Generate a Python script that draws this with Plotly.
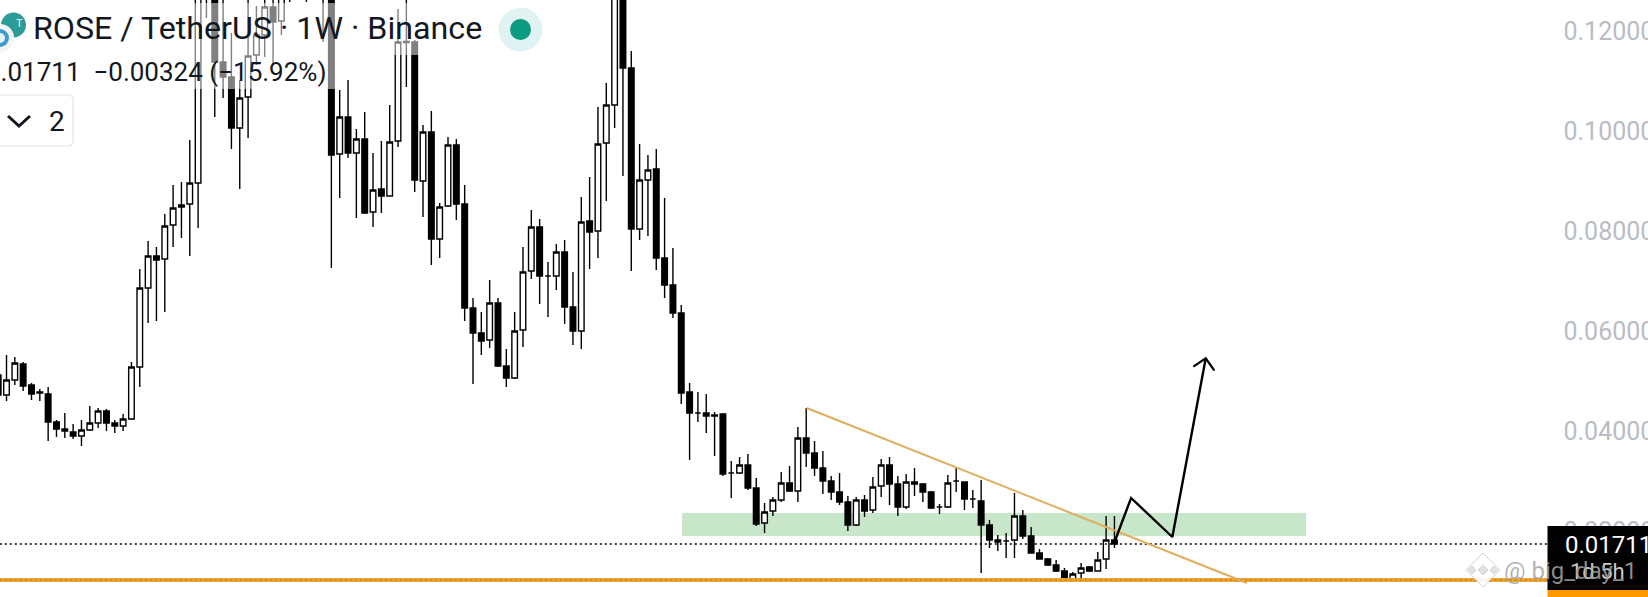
import plotly.graph_objects as go

W, H = 1648, 597

weeks = list(range(-1, 134))
opens = [.05091, .04691, .04991, .05311, .04891, .04751, .04711, .04151, .04011, .03951, .03871, .03991, .04131, .04371, .04131, .04071, .04211, .05251, .06831, .07471,
         .07411, .08091, .08451, .08511, .08931, .12691, .12791, .11351, .11051, .10031, .10651, .11491, .11891, .12451, .12171, .12691, .12691, .12691, .12691, .12691,
         .12791, .09511, .10251, .09531, .09811, .08351, .08811, .08671, .09771, .11741, .11751, .08971, .09951, .07811, .08471, .09691, .08511, .06431, .05931, .05791,
         .06531, .05271, .05031, .05991, .07171, .08051, .07071, .07071, .07551, .06451, .05971, .08171, .07971, .09731, .10491, .12831, .11231, .08011, .08991, .09211,
         .07431, .06891, .06331, .04751, .04331, .04331, .04291, .04311, .03131, .03131, .03291, .02831, .02131, .02371, .02591, .02931, .02771, .03831, .03531, .03231,
         .02971, .02751, .02551, .02091, .02591, .02391, .02871, .03291, .02911, .02451, .02951, .02911, .02751, .02451, .02451, .02971, .02951, .02611, .02571, .02091,
         .01791, .01771, .01791, .02271, .01871, .01531, .01411, .01291, .01171, .01011, .01131, .01251, .01171, .01411, .01791]
highs = [.05151, .05491, .05451, .05351, .04931, .04811, .04851, .04191, .04331, .04111, .04191, .04471, .04431, .04411, .04191, .04311, .05351, .07211, .07771, .07651,
         .08311, .08891, .08951, .09791, .12991, .13091, .12991, .12691, .11931, .10991, .12631, .12471, .12591, .12631, .12791, .13091, .13091, .13091, .13091, .13091,
         .12991, .10791, .10991, .10011, .10351, .09531, .09771, .10491, .12411, .12651, .11791, .10091, .10371, .08531, .09851, .09811, .08891, .06631, .06351, .06991,
         .06631, .05611, .06351, .07651, .08391, .08211, .07351, .07711, .07791, .07151, .08651, .09051, .10451, .10931, .12991, .12991, .11571, .09711, .09491, .09611,
         .08631, .07631, .06491, .04931, .04751, .04711, .04351, .04331, .03371, .03451, .03511, .03031, .02531, .02651, .03151, .03271, .04051, .04431, .03771, .03571,
         .03071, .03131, .02671, .02651, .02691, .03051, .03411, .03451, .03071, .03111, .03231, .02931, .02771, .02511, .03091, .03231, .02951, .02791, .02991, .02191,
         .01891, .01931, .02731, .02391, .02051, .01611, .01431, .01391, .01231, .01151, .01331, .01271, .01551, .02271, .02271]
lows = [.04591, .04571, .04891, .04771, .04591, .04571, .03771, .03851, .03831, .03811, .03671, .03971, .04031, .03971, .03931, .03971, .04191, .04851, .06131, .06171,
        .06351, .07651, .07831, .07471, .08031, .12231, .10251, .10631, .09611, .08811, .09831, .11291, .11451, .11291, .11891, .12551, .12651, .12551, .12651, .11751,
        .07231, .08631, .09431, .08231, .08311, .08051, .08331, .08671, .09651, .10851, .08751, .08251, .07291, .07431, .08451, .08191, .06171, .04911, .05491, .05631,
        .05251, .04851, .05011, .05651, .07011, .06511, .06251, .06791, .06111, .05691, .05611, .07211, .07431, .08571, .10031, .09071, .07171, .07791, .07871, .07191,
        .06631, .06231, .04511, .03391, .04151, .03931, .03471, .03071, .02631, .03111, .02791, .02071, .01931, .02271, .02551, .02751, .02551, .03251, .03071, .02711,
        .02591, .02491, .01971, .02071, .02251, .02331, .02651, .02491, .02271, .02411, .02671, .02551, .02411, .02311, .02431, .02751, .02391, .02431, .01131, .01631,
        .01571, .01431, .01431, .01811, .01531, .01411, .01271, .01151, .01011, .01011, .01011, .01151, .01171, .01211, .01631]
closes = [.04691, .04991, .05331, .04871, .04711, .04731, .04151, .04011, .03971, .03871, .03991, .04131, .04371, .04131, .04071, .04211, .05251, .06831, .07471, .07391,
          .08071, .08431, .08491, .08931, .12831, .12891, .11351, .11051, .10031, .10631, .11471, .11891, .12451, .12151, .12651, .12891, .12891, .12891, .12891, .12891,
          .09491, .10251, .09531, .09811, .08331, .08791, .08671, .09751, .11751, .11761, .08991, .09951, .07811, .08451, .09691, .08511, .06431, .05931, .05771, .06531,
          .05271, .05031, .05971, .07151, .08051, .07071, .07071, .07551, .06451, .05971, .08151, .07951, .09711, .10491, .12831, .11231, .08011, .08991, .09191, .07431,
          .06891, .06331, .04731, .04331, .04331, .04271, .04271, .03111, .03131, .03291, .02831, .02111, .02351, .02591, .02931, .02771, .03831, .03531, .03231, .02971,
          .02751, .02551, .02091, .02591, .02371, .02851, .03291, .02911, .02451, .02951, .02911, .02751, .02431, .02451, .02931, .02971, .02611, .02611, .02091, .01791,
          .01751, .01771, .02271, .01871, .01531, .01411, .01291, .01171, .01011, .01111, .01231, .01171, .01391, .01791, .01711]

tick_vals = [0.12, 0.10, 0.08, 0.06, 0.04, 0.02]
tick_labels = ['0.12000', '0.10000', '0.08000', '0.06000', '0.04000', '0.02000']
tick_x = [186.9] * 6

last_price = 0.01711
support = 0.00991
zone_x = [81.1, 156.0]
zone_y = [0.01871, 0.02331]
trend_x = [96.06, 148.9]
trend_y = [0.04431, 0.00931]
path_x = [133.1, 135.0, 139.95, 143.96]
path_y = [0.01791, 0.02631, 0.01851, 0.05425]
head_x = [142.47, 143.96, 145.0]
head_y = [0.05257, 0.05425, 0.05177]
line_x = [-2, 200]


def px(x):
    return x / W


def py(y):
    return 1 - y / H


def box(x0, y0, x1, y1, **kw):
    return dict(type='rect', xref='paper', yref='paper', x0=px(x0), x1=px(x1), y0=py(y1), y1=py(y0), **kw)


def dot(cx, cy, r, color):
    return dict(type='circle', xref='paper', yref='paper', x0=px(cx - r), x1=px(cx + r), y0=py(cy + r), y1=py(cy - r),
                fillcolor=color, line_width=0)


def diamond(cx, cy, r, color):
    pts = [(cx, cy - r), (cx + r, cy), (cx, cy + r), (cx - r, cy)]
    p = 'M ' + ' L '.join(f'{px(a):.5f},{py(b):.5f}' for a, b in pts) + ' Z'
    return dict(type='path', xref='paper', yref='paper', path=p, fillcolor=color, line=dict(color='#d4d4d4', width=1))


def text(s, x, y, size, color='#131722', anchor='left', font='Roboto'):
    return dict(text=s, xref='paper', yref='paper', x=px(x), y=py(y), xanchor=anchor, yanchor='middle',
                showarrow=False, font=dict(family=font, size=size, color=color))


fig = go.Figure()

fig.add_trace(go.Candlestick(
    x=weeks, open=opens, high=highs, low=lows, close=closes,
    increasing=dict(fillcolor='#ffffff', line=dict(color='#000000', width=1.4)),
    decreasing=dict(fillcolor='#000000', line=dict(color='#000000', width=1.4)),
))
fig.add_trace(go.Scatter(x=line_x, y=[support, support], mode='lines', line=dict(color='#eda332', width=4)))
fig.add_trace(go.Scatter(x=line_x, y=[support, support], mode='lines', line=dict(color='#a8741f', width=1, dash='2px 3px')))
fig.add_trace(go.Scatter(x=line_x, y=[last_price, last_price], mode='lines', line=dict(color='#000000', width=1.5, dash='2px 3px')))
fig.add_trace(go.Scatter(x=trend_x, y=trend_y, mode='lines', line=dict(color='#e0ad5c', width=2)))
fig.add_trace(go.Scatter(x=path_x, y=path_y, mode='lines', line=dict(color='#000000', width=2.4)))
fig.add_trace(go.Scatter(x=head_x, y=head_y, mode='lines', line=dict(color='#000000', width=2.2)))
# ticks as a text trace so the price tag shape can cover the 0.02 label
# scatter text sits a little high, so nudge it down about 4px
fig.add_trace(go.Scatter(x=tick_x, y=[v - 0.0008 for v in tick_vals], text=tick_labels, mode='text',
                         textposition='middle right', textfont=dict(family='Roboto', size=25, color='#b9bcc4')))

shapes = [
    dict(type='rect', xref='x', yref='y', x0=zone_x[0], x1=zone_x[1], y0=zone_y[0], y1=zone_y[1],
         fillcolor='#c8e6c9', line_width=0, layer='below'),
    # legend backing, it washes the candles out
    box(0, 3, 490, 55, fillcolor='rgba(255,255,255,0.5)', line_width=0),
    box(0, 55, 340, 89, fillcolor='rgba(255,255,255,0.5)', line_width=0),
    dict(type='path', xref='paper', yref='paper',
         path=f'M {px(-5)},{py(95)} L {px(68)},{py(95)} Q {px(73)},{py(95)} {px(73)},{py(100)} '
              f'L {px(73)},{py(141)} Q {px(73)},{py(146)} {px(68)},{py(146)} L {px(-5)},{py(146)}',
         line=dict(color='#e0e3eb', width=1.2), fillcolor='#ffffff'),
    dict(type='path', xref='paper', yref='paper',
         path=f'M {px(8)},{py(116)} L {px(19)},{py(126)} L {px(30)},{py(116)}',
         line=dict(color='#131722', width=3)),
    dot(520.5, 29.5, 22, '#e0f2f1'),
    dot(520.5, 29.5, 10.5, '#0c9a81'),
    dot(13.5, 25, 12.5, '#2c9c97'),
    dot(0, 38, 14, '#f4f4f4'),
    dot(0, 38, 9, '#3d9bd0'),
    dot(0, 38, 5, '#e6f2f8'),
    # price label on the axis
    box(1547.5, 526, W, 590, fillcolor='#000000', line_width=0),
    box(1547.5, 590, W, H, fillcolor='#ff9800', line_width=0),
    # watermark logo
    diamond(1483, 570, 17, 'rgba(255,255,255,0.9)'),
    diamond(1483, 570, 5, '#e2e2e2'),
    diamond(1472, 570, 4, '#e2e2e2'),
    diamond(1494, 570, 4, '#e2e2e2'),
]

annotations = [
    text('ROSE / TetherUS · 1W · Binance', 31, 28, 32.2),
    text('0.01711\u00a0\u00a0−0.00324 (−15.92%)', 328, 72, 26, anchor='right'),
    text('2', 46.5, 121, 28),
    text('T', 13.5, 23, 11, color='#e8f5f5'),
    text('0.01711', 1563, 545, 24, color='#ffffff'),
    text('1d 5h', 1597, 571, 22, color='#c9c9c9', anchor='center'),
    text('@ big_day_1', 1502, 571, 24, color='rgba(165,165,165,0.85)'),
]

fig.update_layout(
    width=W, height=H,
    margin=dict(l=0, r=0, t=0, b=0),
    plot_bgcolor='#ffffff', paper_bgcolor='#ffffff',
    showlegend=False,
    boxgap=0.33, boxgroupgap=0,
    xaxis=dict(visible=False, range=[-0.78, 197.05], rangeslider=dict(visible=False)),
    yaxis=dict(visible=False, range=[0.00651, 0.12591]),
    shapes=shapes,
    annotations=annotations,
)

fig.write_html("out.html", config={'displayModeBar': False},
               post_script="document.body.style.margin='0';document.body.style.overflow='hidden';")
